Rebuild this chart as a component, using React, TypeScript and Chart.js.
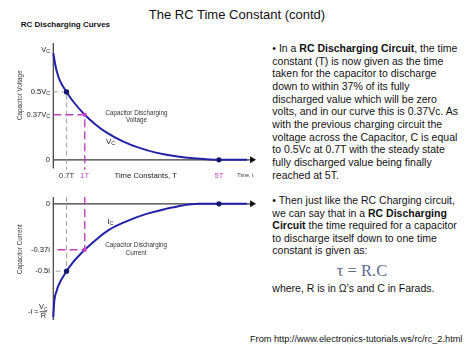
import React, { useEffect, useRef } from 'react';
import { Chart, registerables } from 'chart.js';
Chart.register(...registerables);

const FONT = '"Liberation Sans", Arial, Helvetica, sans-serif';

// ---- data (x in time constants, y in fractions of Vc / i) ----
const voltTime = [0, 0.05, 0.1, 0.2, 0.4, 0.6, 0.95, 1.3, 1.6, 2.1, 2.6, 3.1, 3.7, 4.3, 5.0, 5.85];
const voltValue = [0.97, 0.88, 0.81, 0.72, 0.617, 0.53, 0.41, 0.315, 0.25, 0.168, 0.108, 0.065, 0.032, 0.012, 0, 0];
const currTime = [0, 0.03, 0.1, 0.15, 0.4, 0.6, 0.95, 1.3, 1.69, 2.19, 2.79, 3.43, 3.78, 4.38, 5.0, 5.85];
const currValue = [-1.05, -0.9, -0.807, -0.76, -0.624, -0.54, -0.426, -0.33, -0.24, -0.165, -0.096, -0.045, -0.022, 0, 0, 0];
const markTime = [0.4, 0.95, 5.0];
const markTimeLabels = ['0.7T', '1T', '5T'];
const voltMarkValue = [0.617, 0.41, 0];
const currMarkValue = [-0.624, -0.426, 0];
const voltTickValues = [1, 0.617, 0.41, 0];
const voltTickLabels = ['V', '0.5V', '0.37V', '0'];
const voltTickSubs = ['C', 'C', 'C', ''];
const currTickValues = [0, -0.426, -0.624];
const currTickLabels = ['0', '-0.37i', '-0.5i'];
const currPeakValue = -1;
const axisEnd = 6.0;

const BLUE = '#2222a8';
const NAVY = '#16166e';
const MAGENTA = '#c23ec2';
const MAGENTA_TXT = '#c84ac8';
const GREY = '#a2a2a2';
const AXIS = '#3a3a3a';
const TXT = '#222';

const labelPlugin = {
  id: 'annotLabels',
  afterDatasetsDraw(chart: any, _args: any, opts: any) {
    const { ctx } = chart;
    const xs = chart.scales.x;
    const ys = chart.scales.y;
    const font = (s: number, b?: boolean) => `${b ? 'bold ' : ''}${s}px ${FONT}`;
    for (const it of opts.items || []) {
      const px = xs.getPixelForValue(it.x) + (it.dx || 0);
      const py = ys.getPixelForValue(it.y) + (it.dy || 0);
      ctx.save();
      ctx.fillStyle = it.color || TXT;
      ctx.strokeStyle = it.color || TXT;
      ctx.textBaseline = 'middle';
      ctx.textAlign = 'left';
      ctx.translate(px, py);
      if (it.rotate) ctx.rotate((it.rotate * Math.PI) / 180);
      if (it.kind === 'frac') {
        const s = it.size;
        const ss = s * 0.68;
        ctx.font = font(s);
        const vw = ctx.measureText(it.num).width;
        ctx.font = font(ss);
        const cw = ctx.measureText(it.numSub).width;
        const nx = -(vw + cw) / 2;
        ctx.font = font(s);
        ctx.fillText(it.num, nx, -4.4);
        ctx.font = font(ss);
        ctx.fillText(it.numSub, nx + vw, -4.4 + s * 0.28);
        ctx.font = font(s);
        const rw = ctx.measureText(it.den).width;
        ctx.fillText(it.den, -rw / 2, 4.6);
        ctx.lineWidth = 0.8;
        ctx.beginPath();
        ctx.moveTo(-3.6, 0);
        ctx.lineTo(3.6, 0);
        ctx.stroke();
        const pw = ctx.measureText(it.prefix).width;
        ctx.fillText(it.prefix, -4.8 - pw, 0.6);
      } else {
        ctx.font = font(it.size, it.bold);
        const mw = ctx.measureText(it.text).width;
        const ss = it.size * 0.68;
        let sw = 0;
        if (it.sub) {
          ctx.font = font(ss);
          sw = ctx.measureText(it.sub).width;
        }
        const tw = mw + sw;
        const sx = it.align === 'right' ? -tw : it.align === 'left' ? 0 : -tw / 2;
        ctx.font = font(it.size, it.bold);
        ctx.fillText(it.text, sx, 0);
        if (it.sub) {
          ctx.font = font(ss);
          ctx.fillText(it.sub, sx + mw, it.size * 0.28);
        }
      }
      ctx.restore();
    }
  },
};

function pts(xs: number[], ys: number[]) {
  return xs.map((x, i) => ({ x, y: ys[i] }));
}

function buildConfig(kind: 'volt' | 'curr') {
  const isV = kind === 'volt';
  const curveT = isV ? voltTime : currTime;
  const curveV = isV ? voltValue : currValue;
  const markV = isV ? voltMarkValue : currMarkValue;
  const yMin = isV ? -0.2655 : -1.0762;
  const yMax = isV ? 1.062 : 0.0628;
  const dashEnd = isV ? -0.09 : yMax;
  const dashPath = (i: number) =>
    isV
      ? [
          { x: 0, y: markV[i] },
          { x: markTime[i], y: markV[i] },
          { x: markTime[i], y: dashEnd },
        ]
      : [
          { x: markTime[i], y: dashEnd },
          { x: markTime[i], y: markV[i] },
          { x: 0, y: markV[i] },
        ];
  const items: any[] = [];
  if (isV) {
    voltTickValues.forEach((v, i) =>
      items.push({ x: 0, y: v, dx: -3.3, align: 'right', size: 7.6, text: voltTickLabels[i], sub: voltTickSubs[i] })
    );
    items.push({ x: 0, y: 0.587, dx: -32.6, rotate: -90, size: 6.3, text: 'Capacitor Voltage', color: '#333' });
    const rowY = -0.144;
    markTime.forEach((t, i) =>
      items.push({ x: t, y: rowY, size: 7.7, text: markTimeLabels[i], color: i === 0 ? '#333' : MAGENTA_TXT })
    );
    items.push({ x: 2.79, y: rowY, size: 7.7, text: 'Time Constants, T', color: '#222' });
    items.push({ x: 5.8, y: rowY, size: 5.4, text: 'Time, t', color: '#333' });
    items.push({ x: 2.51, y: 0.425, size: 6.3, text: 'Capacitor Discharging', color: '#333' });
    items.push({ x: 2.51, y: 0.357, size: 6.3, text: 'Voltage', color: '#333' });
    items.push({ x: 1.59, y: 0.168, align: 'left', size: 8, text: 'V', sub: 'C', color: '#222' });
  } else {
    currTickValues.forEach((v, i) =>
      items.push({ x: 0, y: v, dx: -3.3, align: 'right', size: 7.6, text: currTickLabels[i] })
    );
    items.push({ kind: 'frac', x: 0, y: currPeakValue, dx: -10, size: 7.4, num: 'V', numSub: 'C', den: 'R', prefix: '-i =' });
    items.push({ x: 0, y: -0.42, dx: -32.6, rotate: -90, size: 6.3, text: 'Capacitor Current', color: '#333' });
    items.push({ x: 1.63, y: -0.164, align: 'left', size: 8, text: 'I', sub: 'C', color: '#222' });
    items.push({ x: 2.5, y: -0.383, size: 6.3, text: 'Capacitor Discharging', color: '#333' });
    items.push({ x: 2.5, y: -0.455, size: 6.3, text: 'Current', color: '#333' });
  }
  const datasets: any[] = [
    {
      data: pts(markTime, markV),
      showLine: false,
      pointRadius: 2.6,
      pointBackgroundColor: [NAVY, MAGENTA, NAVY],
      pointBorderWidth: 0,
      pointStyle: ['circle', 'rect', 'circle'],
      clip: false,
    },
    {
      data: [{ x: axisEnd, y: 0 }],
      showLine: false,
      pointStyle: 'triangle',
      pointRotation: 90,
      pointRadius: 4,
      pointBackgroundColor: '#111',
      pointBorderWidth: 0,
      clip: false,
    },
    {
      data: pts(curveT, curveV),
      borderColor: BLUE,
      borderWidth: 2,
      pointRadius: 0,
      cubicInterpolationMode: 'monotone',
      clip: false,
    },
    {
      data: dashPath(1),
      borderColor: MAGENTA,
      borderWidth: 1.4,
      borderDash: [8, 4],
      pointRadius: 0,
      clip: false,
    },
    {
      data: dashPath(0),
      borderColor: GREY,
      borderWidth: 1,
      borderDash: [5, 3],
      pointRadius: 0,
      clip: false,
    },
    {
      data: [
        { x: 0, y: 0 },
        { x: axisEnd, y: 0 },
      ],
      borderColor: AXIS,
      borderWidth: 1.2,
      pointRadius: 0,
      clip: false,
    },
    {
      data: [
        { x: 0, y: yMax },
        { x: 0, y: isV ? -0.08 : yMin },
      ],
      borderColor: AXIS,
      borderWidth: 1.2,
      pointRadius: 0,
      clip: false,
    },
  ];
  return {
    type: 'line' as const,
    data: { datasets },
    options: {
      animation: false,
      responsive: false,
      maintainAspectRatio: false,
      layout: { padding: isV ? { left: 53.3, right: 1.65, top: 7, bottom: 0 } : { left: 53.3, right: 1.65, top: 0, bottom: 5 } },
      scales: {
        x: { type: 'linear', min: 0, max: 6.3, display: false },
        y: { type: 'linear', min: yMin, max: yMax, display: false },
      },
      plugins: {
        legend: { display: false },
        tooltip: { enabled: false },
        annotLabels: { items },
      },
    },
    plugins: [labelPlugin],
  };
}

function ChartCanvas({ kind, top, height }: { kind: 'volt' | 'curr'; top: number; height: number }) {
  const ref = useRef<HTMLCanvasElement | null>(null);
  useEffect(() => {
    if (!ref.current) return;
    const chart = new Chart(ref.current, buildConfig(kind) as any);
    return () => chart.destroy();
  }, [kind]);
  return (
    <canvas
      ref={ref}
      width={266}
      height={height}
      style={{ position: 'absolute', left: 0, top, width: 266, height }}
    />
  );
}

const para1: (string | { b: string })[][] = [
  ['\u2022 In a ', { b: 'RC Discharging Circuit' }, ', the time'],
  ['constant (T) is now given as the time'],
  ['taken for the capacitor to discharge'],
  ['down to within 37% of its fully'],
  ['discharged value which will be zero'],
  ['volts, and in our curve this is 0.37Vc. As'],
  ['with the previous charging circuit the'],
  ['voltage across the Capacitor, C is equal'],
  ['to 0.5Vc at 0.7T with the steady state'],
  ['fully discharged value being finally'],
  ['reached at 5T.'],
];
const para2: (string | { b: string })[][] = [
  ['\u2022 Then just like the RC Charging circuit,'],
  ['we can say that in a ', { b: 'RC Discharging' }],
  [{ b: 'Circuit' }, ' the time required for a capacitor'],
  ['to discharge itself down to one time'],
  ['constant is given as:'],
];

function Para({ lines, top, lh }: { lines: (string | { b: string })[][]; top: number; lh: number }) {
  return (
    <div
      style={{
        position: 'absolute',
        left: 272.3,
        top,
        fontFamily: FONT,
        fontSize: 10.5,
        lineHeight: `${lh}px`,
        color: '#111',
        whiteSpace: 'pre',
      }}
    >
      {lines.map((segs, i) => (
        <div key={i}>
          {segs.map((s, j) => (typeof s === 'string' ? <span key={j}>{s}</span> : <b key={j}>{s.b}</b>))}
        </div>
      ))}
    </div>
  );
}

export default function App() {
  return (
    <div style={{ position: 'absolute', left: 0, top: 0, width: 474, height: 355, background: '#fff', overflow: 'hidden' }}>
      <div
        style={{
          position: 'absolute',
          left: 0,
          top: 7,
          width: 474,
          textAlign: 'center',
          fontFamily: FONT,
          fontSize: 13,
          lineHeight: '16px',
          color: '#111',
        }}
      >
        The RC Time Constant (contd)
      </div>
      <div
        style={{
          position: 'absolute',
          left: 20.7,
          top: 20,
          fontFamily: FONT,
          fontSize: 8,
          fontWeight: 'bold',
          lineHeight: '10px',
          color: '#111',
          whiteSpace: 'pre',
        }}
      >
        RC Discharging Curves
      </div>
      <ChartCanvas kind="volt" top={36} height={157} />
      <ChartCanvas kind="curr" top={193} height={132} />
      <Para lines={para1} top={42} lh={12.67} />
      <Para lines={para2} top={194.4} lh={12.5} />
      <div
        style={{
          position: 'absolute',
          left: 300,
          width: 124,
          top: 261,
          textAlign: 'center',
          fontFamily: '"Liberation Serif", "Times New Roman", serif',
          fontSize: 16.5,
          lineHeight: '20px',
          color: '#5a6a8c',
          whiteSpace: 'pre',
        }}
      >
        {'\u03C4 = R.C'}
      </div>
      <div
        style={{
          position: 'absolute',
          left: 272.3,
          top: 282,
          fontFamily: FONT,
          fontSize: 10.5,
          lineHeight: '12.67px',
          color: '#111',
          whiteSpace: 'pre',
        }}
      >
        {"where, R is in \u03A9's and C in Farads."}
      </div>
      <div
        style={{
          position: 'absolute',
          left: 250,
          top: 333.8,
          fontFamily: FONT,
          fontSize: 9.2,
          lineHeight: '11px',
          color: '#111',
          whiteSpace: 'pre',
        }}
      >
        From http://www.electronics-tutorials.ws/rc/rc_2.html
      </div>
    </div>
  );
}
